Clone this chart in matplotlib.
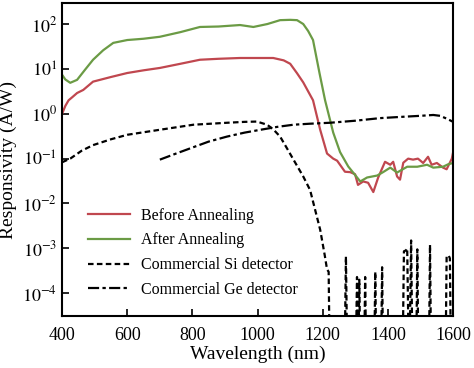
import matplotlib
matplotlib.use("Agg")
import matplotlib.pyplot as plt
import numpy as np

plt.rcParams['font.family'] = ['Liberation Serif', 'DejaVu Serif']
plt.rcParams['mathtext.fontset'] = 'stix'

# Before Annealing (red)
before_wl = [400, 410, 420, 430, 446, 465, 495, 550, 600, 650, 700, 763, 823, 880, 946, 1000,
             1048, 1080, 1100, 1121, 1140, 1170, 1192, 1213, 1232, 1244, 1268, 1284, 1299,
             1308, 1324, 1339, 1355, 1370, 1391, 1407, 1416, 1428, 1437, 1447, 1462, 1477, 1492,
             1508, 1523, 1534, 1550, 1569, 1580, 1596, 1600]
before_r = [1.0, 1.5, 2.0, 2.3, 2.9, 3.4, 5.2, 6.6, 8.1, 9.3, 10.5, 13.0, 16.0, 16.8, 17.5, 17.5,
            17.5, 15.5, 13.0, 8.0, 5.0, 2.0, 0.44, 0.13, 0.1, 0.09, 0.051, 0.05, 0.045,
            0.026, 0.031, 0.029, 0.018, 0.038, 0.085, 0.073, 0.085, 0.04, 0.034, 0.081, 0.1, 0.095, 0.1,
            0.08, 0.11, 0.073, 0.08, 0.063, 0.058, 0.1, 0.14]

# After Annealing (green)
after_wl = [400, 410, 425, 446, 470, 495, 526, 557, 600, 650, 700, 763, 823, 880, 946, 987, 1030,
            1069, 1100, 1121, 1140, 1155, 1170, 1190, 1207, 1222, 1232, 1253, 1278, 1293, 1315,
            1336, 1367, 1385, 1407, 1428, 1459, 1490, 1520, 1539, 1569, 1585, 1600]
after_r = [7.4, 5.8, 4.9, 5.7, 9.5, 16.0, 26.0, 38.0, 44.0, 47.0, 52.0, 66.0, 86.0, 88.0, 95.0, 86.0, 100.0,
           122.0, 124.0, 122.0, 100.0, 70.0, 44.0, 8.0, 2.0, 0.74, 0.38, 0.14, 0.067, 0.049, 0.031,
           0.038, 0.042, 0.05, 0.063, 0.049, 0.066, 0.066, 0.073, 0.063, 0.066, 0.075, 0.08]

# Commercial Si detector (dashed); 1e-6 marks readings below the axis
si_wl = [400, 425, 460, 495, 550, 600, 700, 803, 906, 960, 998, 1029, 1048, 1069, 1090, 1110, 1140, 1161,
         1192, 1206, 1213, 1218, 1222, 1226,
         1266, 1271, 1276, 1300, 1305, 1308, 1312, 1316, 1326, 1330, 1334, 1357, 1361, 1365,
         1378, 1382, 1386, 1444, 1449, 1455, 1459, 1465, 1471, 1476, 1486, 1490, 1494,
         1525, 1529, 1533, 1576, 1580, 1586, 1590, 1594]
si_r = [0.083, 0.1, 0.15, 0.2, 0.27, 0.34, 0.44, 0.57, 0.63, 0.66, 0.67, 0.57, 0.45, 0.31, 0.17, 0.095, 0.04, 0.02,
        0.0026, 0.0007, 0.00034, 0.0003, 1e-6, 1e-6,
        1e-6, 6.6e-4, 1e-6, 1e-6, 2.3e-4, 1e-6, 2e-4, 1e-6, 1e-6, 2.3e-4, 1e-6, 1e-6, 3e-4, 1e-6,
        1e-6, 3.8e-4, 1e-6, 1e-6, 8.6e-4, 9e-4, 1e-3, 1e-6, 1.5e-3, 1e-6, 1e-6, 9.5e-4, 1e-6,
        1e-6, 1.2e-3, 1e-6, 1e-6, 6.6e-4, 7e-4, 6e-4, 1e-6]

# Commercial Ge detector (dash-dot)
ge_wl = [700, 750, 803, 850, 906, 960, 1009, 1060, 1110, 1160, 1222, 1300, 1376, 1450, 1500, 1539, 1560, 1580, 1600]
ge_r = [0.095, 0.13, 0.18, 0.24, 0.31, 0.38, 0.44, 0.51, 0.57, 0.6, 0.63, 0.7, 0.8, 0.86, 0.9, 0.94, 0.9, 0.78, 0.66]

x_ticks = [400, 600, 800, 1000, 1200, 1400, 1600]

fig = plt.figure(figsize=(4.74, 3.68), dpi=100)
ax = fig.add_axes([0.131, 0.141, 0.825, 0.851])

red = '#c0474f'
green = '#6b9b45'
ax.plot(before_wl, before_r, color=red, lw=1.6, label='Before Annealing')
ax.plot(after_wl, after_r, color=green, lw=1.6, label='After Annealing')
ax.plot(si_wl, si_r, color='black', lw=1.6, ls=(0, (2.5, 1.5)), label='Commercial Si detector')
ax.plot(ge_wl, ge_r, color='black', lw=1.6, ls=(0, (5, 1.5, 1.5, 1.5)), label='Commercial Ge detector')

ax.set_yscale('log')
ax.set_xlim(400, 1600)
ax.set_ylim(10**-4.51, 10**2.47)
ax.set_xticks(x_ticks)
ax.set_xticklabels([str(t) for t in x_ticks])
ax.set_yticks([1e-4, 1e-3, 1e-2, 1e-1, 1e0, 1e1, 1e2])
ax.set_yticklabels([r'$10^{-4}$', r'$10^{-3}$', r'$10^{-2}$', r'$10^{-1}$', r'$10^{0}$', r'$10^{1}$', r'$10^{2}$'])
ax.yaxis.set_minor_locator(matplotlib.ticker.NullLocator())
ax.tick_params(axis='both', which='major', direction='in', length=5, width=1.2, labelsize=13,
               top=False, right=False)
ax.tick_params(axis='x', pad=8)
for s in ax.spines.values():
    s.set_linewidth(1.5)

ax.set_xlabel('Wavelength (nm)', fontsize=14, labelpad=1)
ax.set_ylabel('Responsivity (A/W)', fontsize=14, labelpad=4)

leg = ax.legend(loc='lower left', bbox_to_anchor=(0.03, 0.012), frameon=False, fontsize=11.5,
                handlelength=2.6, handletextpad=0.7, labelspacing=0.55)

fig.savefig('out.png', dpi=100)
